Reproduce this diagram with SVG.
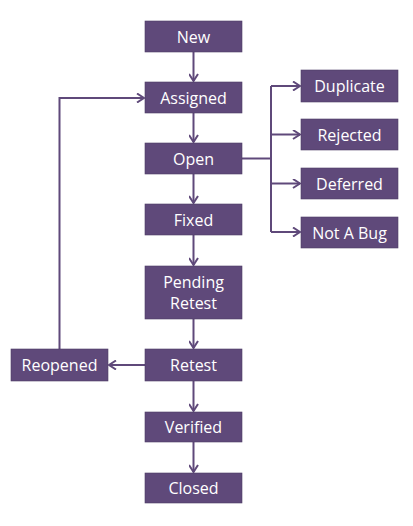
<svg xmlns="http://www.w3.org/2000/svg" width="413" height="526" viewBox="0 0 413 526">
<style>
.box{fill:#5F497A;stroke:#4E3C66;stroke-width:0.6}
.lbl{fill:#FFFFFF;font-family:"Open Sans",Lato,"Liberation Sans",sans-serif;font-size:16px;text-anchor:middle;dominant-baseline:central}
.ln{fill:none;stroke:#5F497A;stroke-width:2}
</style>
<defs>
<marker id="ah" viewBox="0 0 10 10" refX="9" refY="5" markerWidth="10" markerHeight="10" markerUnits="userSpaceOnUse" orient="auto">
<path d="M2,0.5 L9,5 L2,9.5" fill="none" stroke="#5F497A" stroke-width="2"/>
</marker>
</defs>
<rect width="413" height="526" fill="#FFFFFF"/>
<g id="connectors">
<line class="ln" x1="193.5" y1="52" x2="193.5" y2="81" marker-end="url(#ah)"/>
<line class="ln" x1="193.5" y1="113" x2="193.5" y2="142" marker-end="url(#ah)"/>
<line class="ln" x1="193.5" y1="174" x2="193.5" y2="203" marker-end="url(#ah)"/>
<line class="ln" x1="193.5" y1="235" x2="193.5" y2="265" marker-end="url(#ah)"/>
<line class="ln" x1="193.5" y1="319" x2="193.5" y2="348" marker-end="url(#ah)"/>
<line class="ln" x1="193.5" y1="381" x2="193.5" y2="411" marker-end="url(#ah)"/>
<line class="ln" x1="193.5" y1="442" x2="193.5" y2="472" marker-end="url(#ah)"/>
<line class="ln" x1="145" y1="365" x2="109" y2="365" marker-end="url(#ah)"/>
<polyline class="ln" points="59.5,349 59.5,98 144,98" marker-end="url(#ah)"/>
<polyline class="ln" points="242,158.5 271,158.5"/>
<line class="ln" x1="271" y1="86" x2="271" y2="232"/>
<line class="ln" x1="271" y1="86" x2="300" y2="86" marker-end="url(#ah)"/>
<line class="ln" x1="271" y1="134.5" x2="300" y2="134.5" marker-end="url(#ah)"/>
<line class="ln" x1="271" y1="183.5" x2="300" y2="183.5" marker-end="url(#ah)"/>
<line class="ln" x1="271" y1="232" x2="300" y2="232" marker-end="url(#ah)"/>
</g>
<g id="new"><rect class="box" x="145" y="21" width="97" height="31"/><text class="lbl" x="193.5" y="36.5">New</text></g>
<g id="assigned"><rect class="box" x="145" y="82" width="97" height="31"/><text class="lbl" x="193.5" y="97.5">Assigned</text></g>
<g id="open"><rect class="box" x="145" y="143" width="97" height="31"/><text class="lbl" x="193.5" y="158.5">Open</text></g>
<g id="fixed"><rect class="box" x="145" y="204" width="97" height="31"/><text class="lbl" x="193.5" y="219.5">Fixed</text></g>
<g id="pending-retest"><rect class="box" x="145" y="266" width="97" height="53"/><text class="lbl" x="193.5" y="282">Pending</text><text class="lbl" x="193.5" y="303">Retest</text></g>
<g id="retest"><rect class="box" x="145" y="349" width="97" height="32"/><text class="lbl" x="193.5" y="365">Retest</text></g>
<g id="reopened"><rect class="box" x="11" y="349" width="97" height="32"/><text class="lbl" x="59.5" y="365">Reopened</text></g>
<g id="verified"><rect class="box" x="145" y="412" width="97" height="30"/><text class="lbl" x="193.5" y="427">Verified</text></g>
<g id="closed"><rect class="box" x="145" y="473" width="97" height="30"/><text class="lbl" x="193.5" y="488">Closed</text></g>
<g id="duplicate"><rect class="box" x="301" y="70" width="97" height="32"/><text class="lbl" x="349.5" y="86">Duplicate</text></g>
<g id="rejected"><rect class="box" x="301" y="119" width="97" height="31"/><text class="lbl" x="349.5" y="134.5">Rejected</text></g>
<g id="deferred"><rect class="box" x="301" y="168" width="97" height="31"/><text class="lbl" x="349.5" y="183.5">Deferred</text></g>
<g id="not-a-bug"><rect class="box" x="301" y="217" width="97" height="31"/><text class="lbl" x="349.5" y="232.5">Not A Bug</text></g>
</svg>
